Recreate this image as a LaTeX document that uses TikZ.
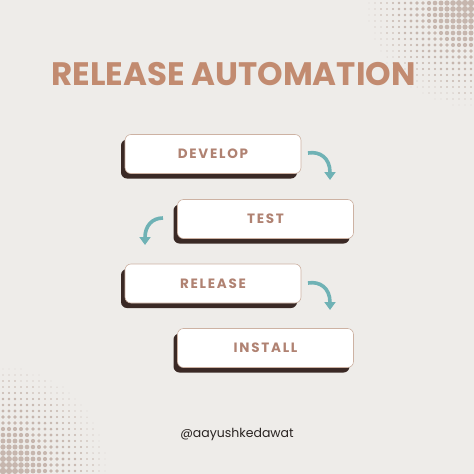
\documentclass[tikz,border=0pt]{standalone}
\usepackage{fontspec}
\setmainfont{Poppins}
\newfontfamily\lblfont{Poppins}[LetterSpace=13]
\usetikzlibrary{arrows.meta,shadows}
\definecolor{bg}{HTML}{EEECE9}
\definecolor{titlec}{HTML}{C28B70}
\definecolor{lblc}{HTML}{B08272}
\definecolor{boxline}{HTML}{CDB2A3}
\definecolor{shadowc}{HTML}{3A2925}
\definecolor{teal}{HTML}{6FB2B5}
\definecolor{dotc}{HTML}{C6B6AE}
\definecolor{markc}{HTML}{2A2422}
\tikzset{
  stepbox/.style={draw=boxline, line width=0.6pt, fill=white, rounded corners=6pt,
    minimum width=176pt, minimum height=39pt, inner sep=0pt, text=lblc,
    font=\lblfont\bfseries\fontsize{13.5}{13.5}\selectfont,
    drop shadow={shadow xshift=-4pt, shadow yshift=-5pt, fill=shadowc, opacity=1}},
  arr/.style={draw=teal, line width=3.6pt, -{Triangle[length=8pt,width=11pt]}},
  dot/.style={fill=dotc}
}
\begin{document}
\begin{tikzpicture}[x=1pt,y=-1pt]
\fill[bg] (0,0) rectangle (474,474);
\useasboundingbox (0,0) rectangle (474,474);
% halftone dots in two corners
\foreach \i in {0,...,20}{
  \foreach \j in {0,...,20}{
    \pgfmathsetmacro\d{6*sqrt((\i+0.5)^2+(\j+0.5)^2)}
    \pgfmathsetmacro\r{3.4*(1-\d/122)}
    \ifdim\r pt>0.4pt
      \fill[dot] (474-3-6*\i, 3+6*\j) circle[radius=\r];
      \fill[dot] (3+6*\i, 474-3-6*\j) circle[radius=\r];
    \fi
  }
}
\node[text=titlec, font=\bfseries\fontsize{32.5}{32.5}\selectfont] (title) at (233.5,74.5) {RELEASE AUTOMATION};
\node[stepbox] (dev) at (213,154) {DEVELOP};
\node[stepbox] (test) at (265.5,219) {TEST};
\node[stepbox] (rel) at (213,283.5) {RELEASE};
\node[stepbox] (inst) at (265.5,348) {INSTALL};
\coordinate (a1s) at (308,153);
\coordinate (a1e) at (330,180);
\draw[arr] (a1s) .. controls (320,151) and (330,158) .. (a1e);
\coordinate (a2s) at (163,218);
\coordinate (a2e) at (145,245);
\draw[arr] (a2s) .. controls (152,218) and (145,226) .. (a2e);
\coordinate (a3s) at (308,283);
\coordinate (a3e) at (330,310);
\draw[arr] (a3s) .. controls (320,281) and (330,288) .. (a3e);
\node[text=markc, font=\fontsize{12.5}{12.5}\selectfont] (mark) at (237,434) {@aayushkedawat};
\end{tikzpicture}
\end{document}
